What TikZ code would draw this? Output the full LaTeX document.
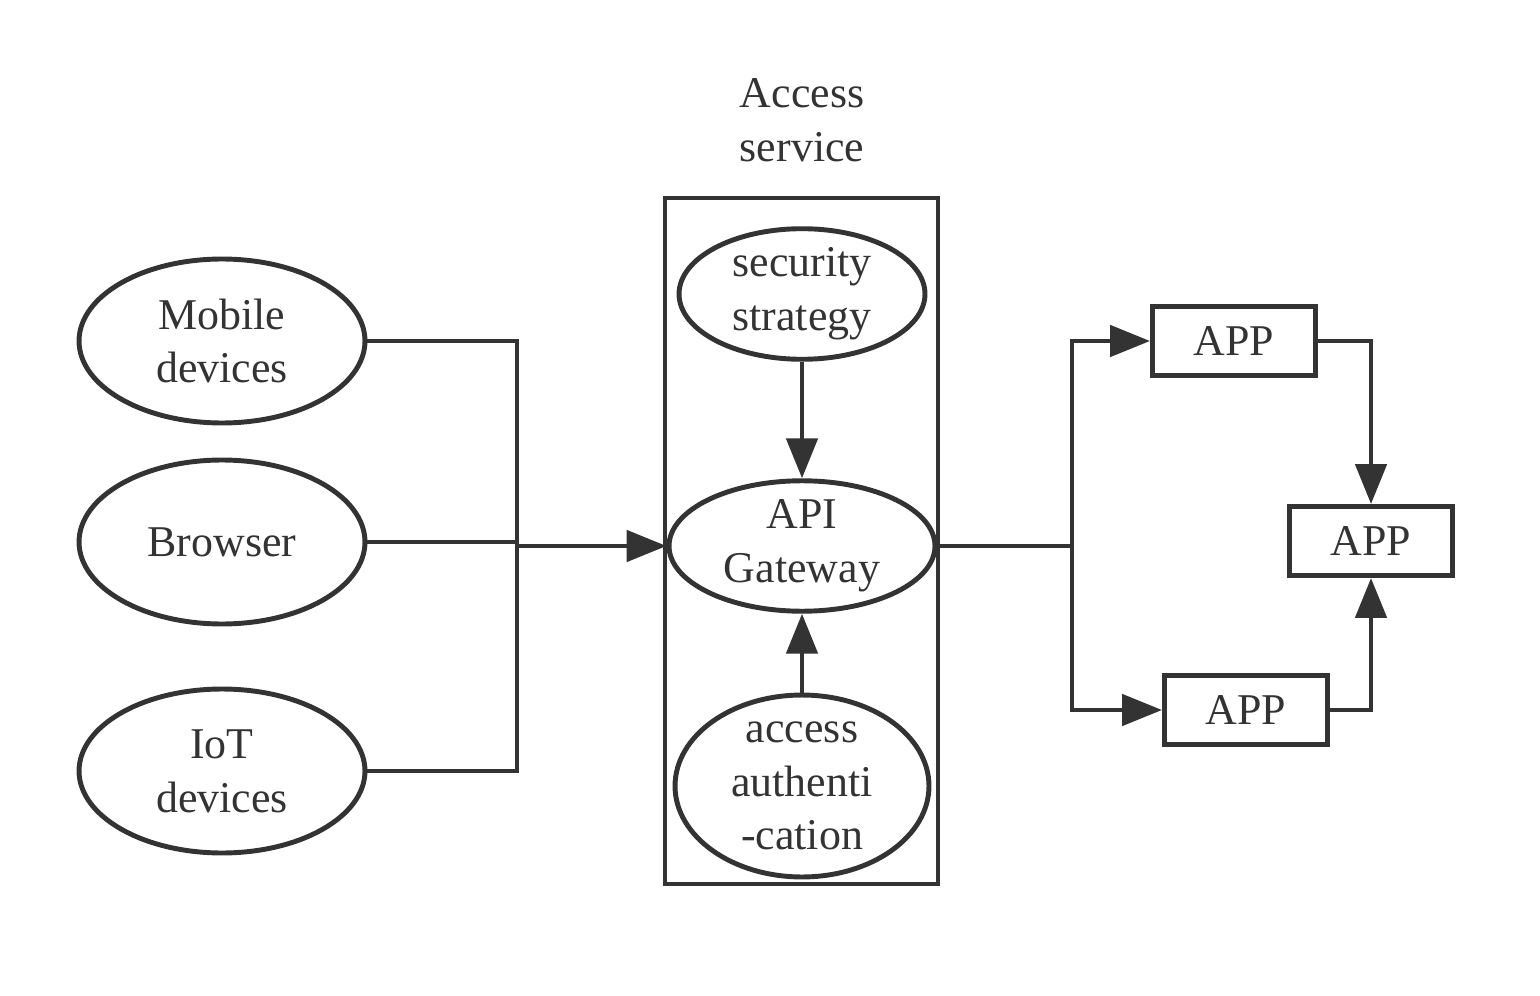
\documentclass[tikz,border=0pt]{standalone}
\usepackage{fontspec}
\setmainfont{Liberation Serif}
\usetikzlibrary{shapes.geometric,arrows.meta}
\definecolor{ink}{HTML}{333333}
\tikzset{>={Triangle[length=0.8cm,width=0.62cm]}}
\tikzset{
  oval/.style={ellipse, draw=ink, line width=2.8pt, inner sep=0pt, align=center,
    font=\fontsize{25}{30.6}\selectfont, text=ink},
  appbox/.style={rectangle, draw=ink, line width=2.8pt, minimum width=3.26cm,
    minimum height=1.38cm, font=\fontsize{25}{30.6}\selectfont, text=ink},
  link/.style={draw=ink, line width=2.8pt}
}
\begin{document}
\begin{tikzpicture}[x=0.02cm, y=-0.02cm]
    \useasboundingbox (0,0) rectangle (1540,996);

    \node[oval, minimum width=5.72cm, minimum height=3.28cm] (mobile) at (222,341) {Mobile\\devices};
    \node[oval, minimum width=5.72cm, minimum height=3.28cm] (browser) at (222,542) {Browser};
    \node[oval, minimum width=5.72cm, minimum height=3.28cm] (iot) at (222,771) {IoT\\devices};

    \draw[link] (665,198) rectangle (938,884);
    \node[font=\fontsize{25}{30.6}\selectfont, text=ink, align=center] (title) at (802,120) {Access\\service};

    \node[oval, minimum width=4.92cm, minimum height=2.44cm] (strategy) at (802,294) {security\\strategy};
    \node[oval, minimum width=5.32cm, minimum height=2.28cm] (gateway) at (802,546) {API\\Gateway};
    \node[oval, minimum width=5.08cm, minimum height=3.28cm] (auth) at (802,786) {access\\authenti\\-cation};

    \node[appbox] (app1) at (1234,341) {APP};
    \node[appbox] (app2) at (1371,541) {APP};
    \node[appbox] (app3) at (1246,710) {APP};

    \coordinate (join) at (517,546);
    \coordinate (fork) at (1072,546);

    \draw[link] (mobile.east) -| (join);
    \draw[link] (iot.east) -| (join);
    \draw[link] (browser.east) -- (browser.east -| join);
    \draw[link, ->] (join) -- (gateway.west);

    \draw[link, ->] (strategy.south) -- (gateway.north);
    \draw[link, ->] (auth.north) -- (gateway.south);

    \draw[link] (gateway.east) -- (fork);
    \draw[link, ->] (fork) |- (app1.west);
    \draw[link, ->] (fork) |- (app3.west);
    \draw[link, ->] (app1.east) -| (app2.north);
    \draw[link, ->] (app3.east) -| (app2.south);
\end{tikzpicture}
\end{document}
